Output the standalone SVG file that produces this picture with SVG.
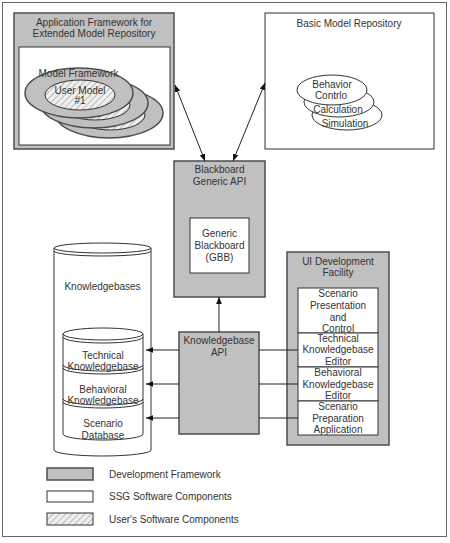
<svg xmlns="http://www.w3.org/2000/svg" width="450" height="543" viewBox="0 0 450 543">
<defs>
<style>
text{font-family:"Liberation Sans",Arial,sans-serif;font-size:10px;fill:#333;text-anchor:middle}
.lg{text-anchor:start}
.gray{fill:#c0c0c0;stroke:#4d4d4d;stroke-width:1.5}
.white{fill:#fff;stroke:#333;stroke-width:1}
.hat{fill:url(#hatch);stroke:#333;stroke-width:1}
.ln{fill:none;stroke:#222;stroke-width:1}
.cyl{fill:#fff;stroke:#333;stroke-width:1}
.arc{fill:none;stroke:#333;stroke-width:1}
</style>
<pattern id="hatch" patternUnits="userSpaceOnUse" width="4.5" height="4.5" patternTransform="rotate(45)">
<rect width="4.5" height="4.5" fill="#efefef"/>
<line x1="0" y1="0" x2="0" y2="4.5" stroke="#9a9a9a" stroke-width="1.2"/>
</pattern>
<marker id="ah" viewBox="0 0 10 10" refX="10" refY="5" markerWidth="7" markerHeight="7" orient="auto-start-reverse">
<path d="M0,1 L10,5 L0,9 z" fill="#111"/>
</marker>
</defs>
<rect x="0" y="0" width="450" height="543" fill="#fff"/>
<rect x="2.5" y="2.5" width="444" height="534" fill="none" stroke="#666" stroke-width="1"/>

<g id="app-framework">
<rect class="gray" x="14" y="13" width="160" height="136"/>
<rect class="white" x="19" y="47" width="151" height="98"/>
<text x="94" y="25.5">Application Framework for</text>
<text x="94" y="37">Extended Model Repository</text>
<ellipse class="gray" cx="109" cy="113" rx="54" ry="25"/>
<ellipse class="hat" cx="110" cy="115" rx="35" ry="15"/>
<ellipse class="gray" cx="94" cy="103" rx="54" ry="25"/>
<ellipse class="hat" cx="95" cy="105" rx="35" ry="15"/>
<ellipse class="gray" cx="79" cy="93" rx="54" ry="25"/>
<ellipse class="hat" cx="80" cy="95" rx="35" ry="15"/>
<text x="78.5" y="77">Model Framework</text>
<text x="80" y="93.5">User Model</text>
<text x="80" y="104">#1</text>
</g>

<g id="basic-model-repository">
<rect class="white" x="265" y="13" width="169" height="136"/>
<text x="349" y="26.5">Basic Model Repository</text>
<ellipse class="white" cx="347" cy="115" rx="35" ry="15"/>
<text x="345" y="126.5">Simulation</text>
<ellipse class="white" cx="339" cy="102" rx="35" ry="15"/>
<text x="338" y="112.5">Calculation</text>
<ellipse class="white" cx="332" cy="90" rx="35" ry="15"/>
<text x="332" y="87.5">Behavior</text>
<text x="331" y="99">Contrlo</text>
</g>

<g id="blackboard">
<rect class="gray" x="174" y="161" width="91" height="136"/>
<text x="219.5" y="172.5">Blackboard</text>
<text x="219.5" y="184.5">Generic API</text>
<rect class="white" x="190" y="218" width="59" height="55"/>
<text x="219.5" y="236.5">Generic</text>
<text x="219.5" y="248.5">Blackboard</text>
<text x="219.5" y="260.5">(GBB)</text>
</g>

<g id="knowledgebases">
<path class="cyl" d="M54,248 L54,450 A48.5,6 0 0 0 151,450 L151,248 Z"/>
<ellipse class="cyl" cx="102.5" cy="248" rx="48.5" ry="5"/>
<path class="arc" d="M54,251 A48.5,5 0 0 0 151,251"/>
<text x="102.5" y="289.5">Knowledgebases</text>
<path class="cyl" d="M63,334 L63,434 A40,6 0 0 0 143,434 L143,334 Z"/>
<ellipse class="cyl" cx="103" cy="334" rx="40" ry="6"/>
<path class="arc" d="M63,337 A40,6 0 0 0 143,337"/>
<path class="arc" d="M63,365 A40,6 0 0 0 143,365"/>
<path class="arc" d="M63,368 A40,6 0 0 0 143,368"/>
<path class="arc" d="M63,399 A40,6 0 0 0 143,399"/>
<path class="arc" d="M63,402 A40,6 0 0 0 143,402"/>
<text x="103" y="359">Technical</text>
<text x="103" y="370">Knowledgebase</text>
<text x="103" y="393">Behavioral</text>
<text x="103" y="404">Knowledgebase</text>
<text x="103" y="426.5">Scenario</text>
<text x="103" y="438.5">Database</text>
</g>

<g id="knowledgebase-api">
<rect class="gray" x="179" y="332" width="80" height="102"/>
<text x="219" y="343.5">Knowledgebase</text>
<text x="219" y="355.5">API</text>
</g>

<g id="ui-facility">
<rect class="gray" x="287" y="252" width="102" height="193"/>
<text x="338" y="264.5">UI Development</text>
<text x="338" y="275.5">Facility</text>
<rect class="white" x="298" y="288" width="80" height="45"/>
<rect class="white" x="298" y="333" width="80" height="34"/>
<rect class="white" x="298" y="367" width="80" height="34"/>
<rect class="white" x="298" y="401" width="80" height="34"/>
<text x="338" y="296.5">Scenario</text>
<text x="338" y="308.5">Presentation</text>
<text x="338" y="320.5">and</text>
<text x="338" y="331.5">Control</text>
<text x="338" y="341.5">Technical</text>
<text x="338" y="352.5">Knowledgebase</text>
<text x="338" y="364.5">Editor</text>
<text x="338" y="375.5">Behavioral</text>
<text x="338" y="387.5">Knowledgebase</text>
<text x="338" y="398.5">Editor</text>
<text x="338" y="409.5">Scenario</text>
<text x="338" y="421.5">Preparation</text>
<text x="338" y="432.5">Application</text>
</g>

<g id="connectors">
<line class="ln" x1="175" y1="85" x2="205" y2="161" marker-start="url(#ah)" marker-end="url(#ah)"/>
<line class="ln" x1="265" y1="83" x2="233" y2="161" marker-start="url(#ah)" marker-end="url(#ah)"/>
<line class="ln" x1="219" y1="332" x2="219" y2="297" marker-end="url(#ah)"/>
<line class="ln" x1="179" y1="350" x2="146" y2="350" marker-end="url(#ah)"/>
<line class="ln" x1="179" y1="384" x2="146" y2="384" marker-end="url(#ah)"/>
<line class="ln" x1="179" y1="418" x2="146" y2="418" marker-end="url(#ah)"/>
<line class="ln" x1="259" y1="350" x2="298" y2="350"/>
<line class="ln" x1="259" y1="384" x2="298" y2="384"/>
<line class="ln" x1="259" y1="418" x2="298" y2="418"/>
</g>

<g id="legend">
<rect class="gray" x="47" y="468" width="46" height="12"/>
<text class="lg" x="109" y="477.5">Development Framework</text>
<rect class="white" x="47" y="491" width="46" height="11"/>
<text class="lg" x="109" y="499.5">SSG Software Components</text>
<rect class="hat" x="47" y="513" width="46" height="12"/>
<text class="lg" x="109" y="522.5">User's Software Components</text>
</g>
</svg>
